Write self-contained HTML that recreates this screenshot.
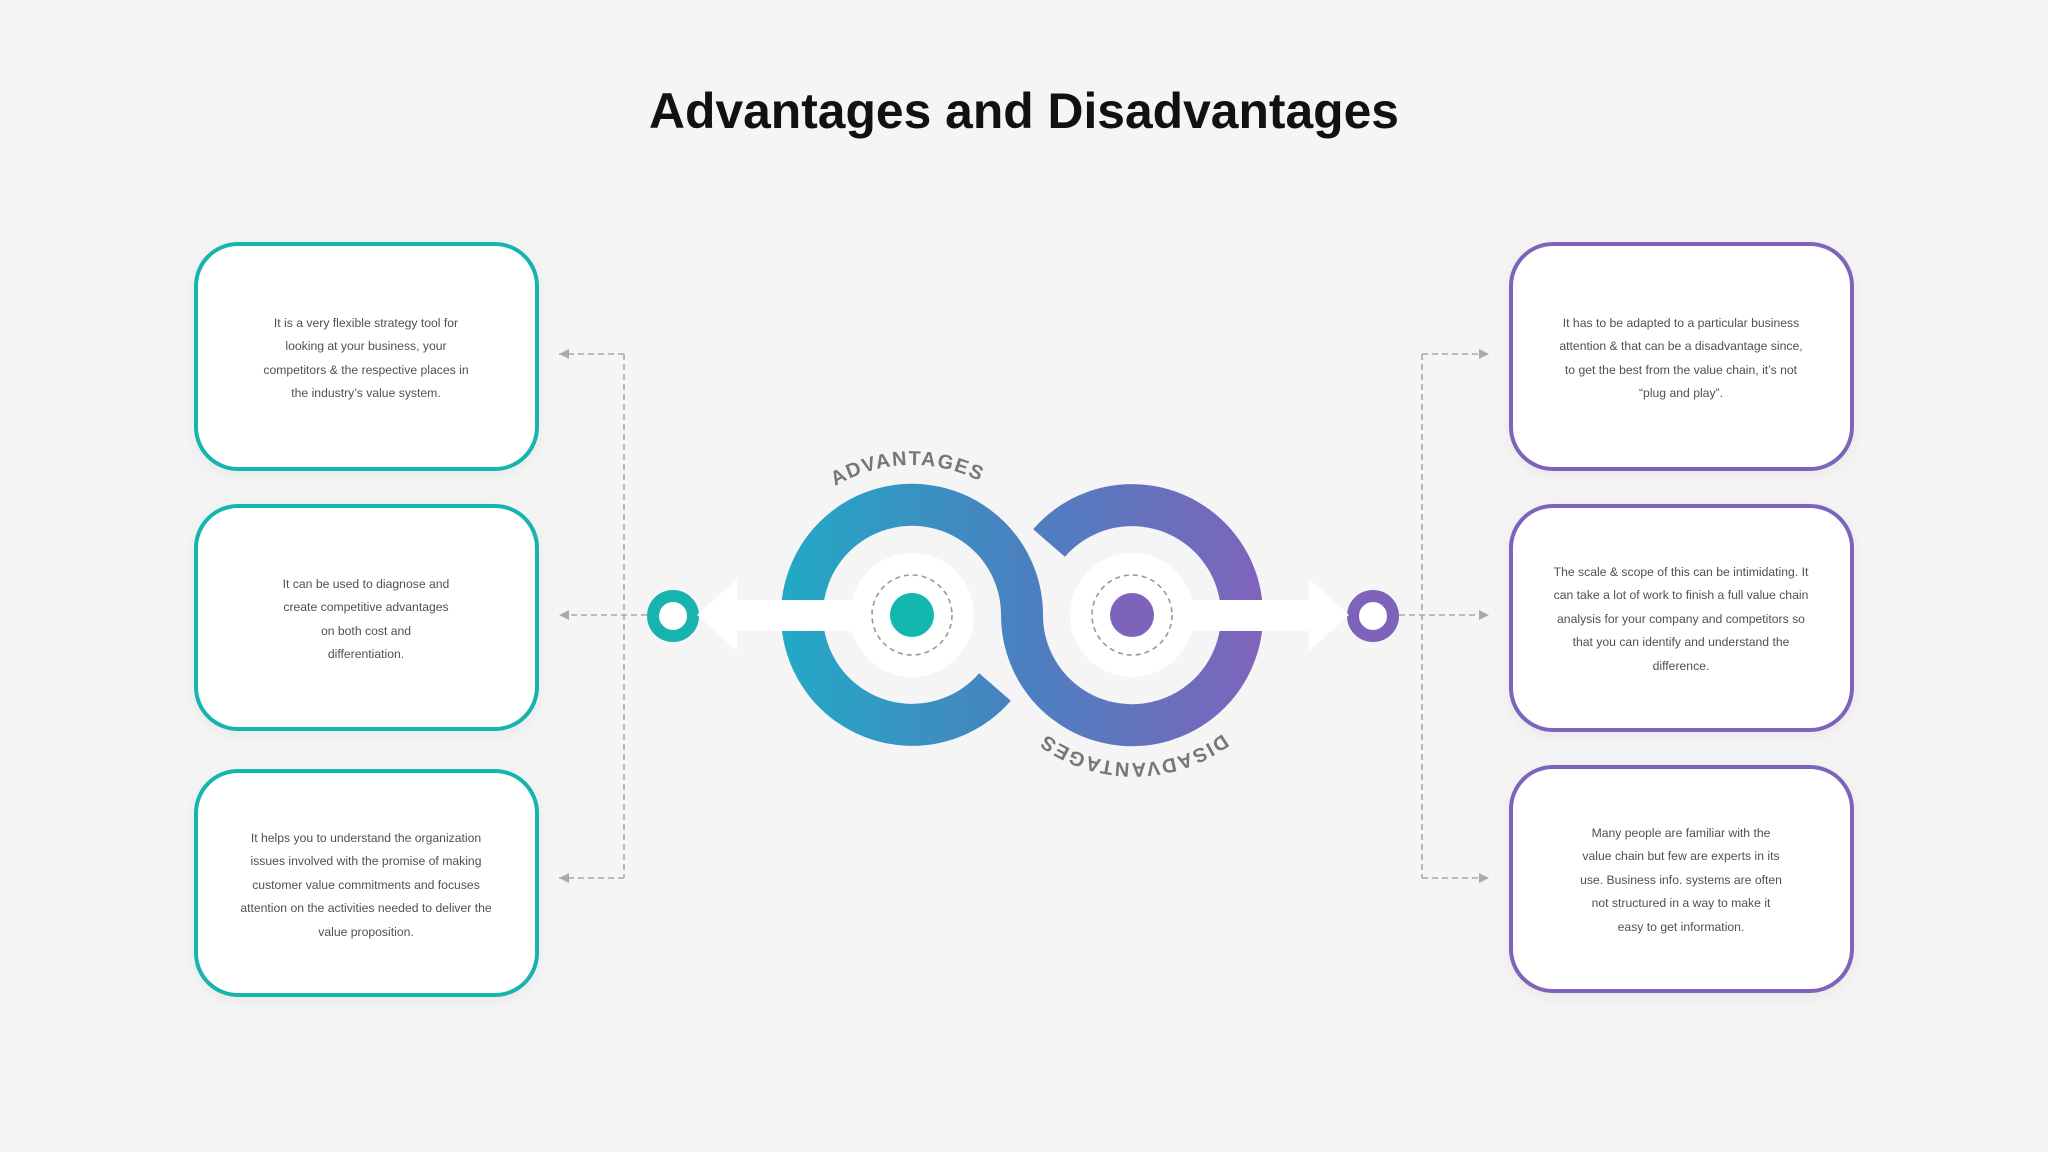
<!DOCTYPE html>
<html><head><meta charset="utf-8"><style>
html,body{margin:0;padding:0;background:#f5f5f6}
svg{display:block}
.t{font-family:"Liberation Sans",sans-serif;font-size:12.2px;fill:#505050;text-anchor:middle}
</style></head><body>
<svg width="2048" height="1152" viewBox="0 0 2048 1152" xmlns="http://www.w3.org/2000/svg">
<defs>
<linearGradient id="g" x1="783" y1="0" x2="1262" y2="0" gradientUnits="userSpaceOnUse">
<stop offset="0" stop-color="#22A9C6"/><stop offset="0.5" stop-color="#4A80C0"/><stop offset="1" stop-color="#8063BC"/>
</linearGradient>
<filter id="sh" x="-10%" y="-10%" width="120%" height="120%"><feDropShadow dx="0" dy="4" stdDeviation="8" flood-color="#000" flood-opacity="0.05"/></filter>
<marker id="al" viewBox="0 0 10 10" refX="10" refY="5" markerWidth="10" markerHeight="10" markerUnits="userSpaceOnUse" orient="auto"><path d="M0,0L10,5L0,10z" fill="#aaa"/></marker>
</defs>
<rect width="2048" height="1152" fill="#f5f5f6"/>
<text x="1024" y="128" font-family="Liberation Sans,sans-serif" font-weight="bold" font-size="50" fill="#111" text-anchor="middle" textLength="750" lengthAdjust="spacingAndGlyphs">Advantages and Disadvantages</text>

<g filter="url(#sh)" fill="#fff" stroke-width="4">
<rect x="196" y="244" width="341" height="225" rx="42" stroke="#17B4AF"/>
<rect x="196" y="506" width="341" height="223" rx="42" stroke="#17B4AF"/>
<rect x="196" y="771" width="341" height="224" rx="42" stroke="#17B4AF"/>
<rect x="1511" y="244" width="341" height="225" rx="42" stroke="#7E63BB"/>
<rect x="1511" y="506" width="341" height="224" rx="42" stroke="#7E63BB"/>
<rect x="1511" y="767" width="341" height="224" rx="42" stroke="#7E63BB"/>
</g>

<g class="t">
<text class="t" x="366" y="327">It is a very flexible strategy tool for</text>
<text class="t" x="366" y="350">looking at your business, your</text>
<text class="t" x="366" y="374">competitors &amp; the respective places in</text>
<text class="t" x="366" y="397">the industry’s value system.</text>

<text class="t" x="366" y="588">It can be used to diagnose and</text>
<text class="t" x="366" y="611">create competitive advantages</text>
<text class="t" x="366" y="635">on both cost and</text>
<text class="t" x="366" y="658">differentiation.</text>

<text class="t" x="366" y="842">It helps you to understand the organization</text>
<text class="t" x="366" y="865">issues involved with the promise of making</text>
<text class="t" x="366" y="889">customer value commitments and focuses</text>
<text class="t" x="366" y="912">attention on the activities needed to deliver the</text>
<text class="t" x="366" y="936">value proposition.</text>

<text class="t" x="1681" y="327">It has to be adapted to a particular business</text>
<text class="t" x="1681" y="350">attention &amp; that can be a disadvantage since,</text>
<text class="t" x="1681" y="374">to get the best from the value chain, it’s not</text>
<text class="t" x="1681" y="397">“plug and play”.</text>

<text class="t" x="1681" y="576">The scale &amp; scope of this can be intimidating. It</text>
<text class="t" x="1681" y="599">can take a lot of work to finish a full value chain</text>
<text class="t" x="1681" y="623">analysis for your company and competitors so</text>
<text class="t" x="1681" y="646">that you can identify and understand the</text>
<text class="t" x="1681" y="670">difference.</text>

<text class="t" x="1681" y="837">Many people are familiar with the</text>
<text class="t" x="1681" y="860">value chain but few are experts in its</text>
<text class="t" x="1681" y="884">use. Business info. systems are often</text>
<text class="t" x="1681" y="907">not structured in a way to make it</text>
<text class="t" x="1681" y="931">easy to get information.</text>
</g>

<g stroke="#aaa" stroke-width="1.6" fill="none" stroke-dasharray="6 4">
<path d="M624,354 V878"/>
<path d="M624,354 H559" marker-end="url(#al)"/>
<path d="M647,615 H559" marker-end="url(#al)"/>
<path d="M624,878 H559" marker-end="url(#al)"/>
<path d="M1422,354 V878"/>
<path d="M1422,354 H1489" marker-end="url(#al)"/>
<path d="M1399,615 H1489" marker-end="url(#al)"/>
<path d="M1422,878 H1489" marker-end="url(#al)"/>
</g>

<path d="M995,687 A110,110 0 1 1 1022,615 A110,110 0 1 0 1049,543" fill="none" stroke="url(#g)" stroke-width="42"/>

<circle cx="912" cy="615" r="62" fill="#fff"/>
<circle cx="1132" cy="615" r="62" fill="#fff"/>

<circle cx="673" cy="616" r="20" fill="#fff" stroke="#17B4AF" stroke-width="12"/>
<circle cx="1373" cy="616" r="20" fill="#fff" stroke="#7E63BB" stroke-width="12"/>

<rect x="735" y="600" width="177" height="31" fill="#fff"/>
<polygon points="737,579 737,651 697,615" fill="#fff"/>
<rect x="1132" y="600" width="178" height="31" fill="#fff"/>
<polygon points="1309,579 1309,651 1349,615" fill="#fff"/>

<circle cx="912" cy="615" r="40" fill="none" stroke="#999" stroke-width="1.6" stroke-dasharray="5 4"/>
<circle cx="1132" cy="615" r="40" fill="none" stroke="#999" stroke-width="1.6" stroke-dasharray="5 4"/>
<circle cx="912" cy="615" r="22" fill="#12B8B0"/>
<circle cx="1132" cy="615" r="22" fill="#7D63BB"/>

<path id="pa" d="M762,615 A150,150 0 0 1 1062,615" fill="none"/>
<path id="pd" d="M1282,615 A148,148 0 0 1 986,615" fill="none"/>
<text font-family="Liberation Sans,sans-serif" font-weight="bold" font-size="20" fill="#777" letter-spacing="1.5"><textPath href="#pa" startOffset="49%" text-anchor="middle">ADVANTAGES</textPath></text>
<text font-family="Liberation Sans,sans-serif" font-weight="bold" font-size="20" fill="#777" letter-spacing="1.5"><textPath href="#pd" startOffset="50%" text-anchor="middle">DISADVANTAGES</textPath></text>
</svg>
</body></html>
